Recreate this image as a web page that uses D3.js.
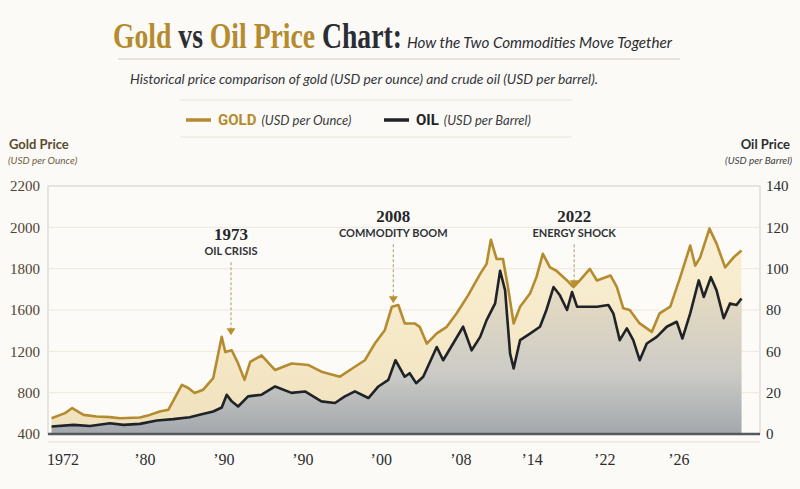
<!DOCTYPE html>
<html>
<head>
<meta charset="utf-8">
<script src="https://cdn.jsdelivr.net/npm/d3@7"></script>
<style>
  body { margin: 0; background: #fcfaf6; }
  svg { display: block; }
</style>
</head>
<body>
<div id="chart"></div>
<script>
// timeline position (0-100 across the plot) and values
const goldT = [0.5, 2.4, 3.4, 5.0, 6.8, 8.7, 10.1, 12.9, 14.3, 15.7,
    16.9, 18.8, 19.7, 20.6, 21.8, 23.2, 24.4, 24.9, 25.8, 26.7,
    27.6, 28.4, 30.0, 31.9, 34.2, 36.6, 38.4, 41.0, 43.1, 44.5,
    45.9, 47.3, 48.3, 49.2, 50.1, 51.5, 52.2, 53.2, 54.6, 56.0,
    57.4, 59.0, 60.7, 61.6, 62.2, 63.0, 63.9, 64.6, 65.4, 66.3,
    67.7, 68.6, 69.5, 70.5, 71.4, 72.9, 73.8, 74.7, 76.1, 77.1,
    79.0, 79.9, 80.8, 81.7, 83.1, 84.8, 85.9, 87.4, 88.8, 90.2,
    90.9, 91.6, 92.9, 93.9, 95.1, 96.3, 97.4];
const goldPrice = [553, 602, 651, 585, 569, 563, 553, 559, 585, 618,
    634, 876, 845, 797, 829, 940, 1340, 1193, 1210, 1083,
    924, 1098, 1162, 1019, 1083, 1067, 1003, 955, 1051, 1114,
    1275, 1405, 1616, 1624, 1470, 1470, 1437, 1275, 1373, 1437,
    1568, 1671, 1775, 1823, 1940, 1847, 1847, 1711, 1470, 1616,
    1680, 1759, 1872, 1806, 1790, 1743, 1711, 1743, 1799, 1743,
    1767, 1711, 1608, 1600, 1470, 1388, 1568, 1616, 1759, 1912,
    1815, 1855, 1994, 1921, 1806, 1855, 1888];

const oilT = [0.5, 3.6, 5.9, 8.7, 10.6, 12.9, 15.3, 17.6, 19.9, 21.3,
    23.2, 24.4, 25.1, 25.8, 26.7, 28.1, 30.0, 31.9, 34.2, 36.1,
    38.4, 40.3, 41.7, 43.1, 45.0, 46.4, 47.8, 48.8, 50.1, 50.8,
    51.7, 52.7, 54.6, 55.5, 56.9, 58.3, 59.5, 60.7, 61.6, 62.8,
    63.5, 64.2, 64.9, 65.4, 66.3, 67.7, 69.1, 70.0, 71.0, 71.9,
    72.9, 73.6, 74.3, 75.7, 77.1, 78.7, 79.4, 80.3, 81.3, 82.2,
    83.1, 84.1, 85.5, 86.9, 88.3, 89.1, 90.2, 91.4, 92.1, 93.1,
    93.9, 94.9, 95.8, 96.7, 97.4];
const oilPrice = [3.6, 4.4, 3.9, 5.2, 4.4, 4.9, 6.5, 7.2, 8.1, 9.3,
    10.9, 12.8, 19, 15.8, 13.3, 18.2, 19, 26, 19.9, 21.2,
    15.8, 15, 18.2, 21.2, 17.4, 26, 32.4, 51.4, 35.4, 38.8,
    29.2, 35.4, 62.1, 51.4, 63.8, 71.9, 60.5, 67, 75.1, 83.2,
    99, 89.5, 57.8, 43.5, 65.4, 68.6, 71.9, 80, 91.1, 87.1,
    80, 88.7, 81.6, 81.6, 81.6, 82.4, 78.4, 65.4, 71.1, 65.4,
    51.4, 63.8, 67, 71.9, 74.3, 66.2, 78.4, 94.3, 86.3, 95.9,
    89.5, 76, 83.2, 82.4, 85.6];

// axis ticks (the picture spaces them evenly although the steps differ)
const goldTicks = [400, 800, 1200, 1600, 1800, 2000, 2200];
const oilTicks = [0, 20, 60, 80, 100, 120, 140];
const xTickLabels = ["1972", "\u201980", "\u201990", "\u201990", "\u201900", "\u201908", "\u201914", "\u201922", "\u201926"];
const xTickPos = [2.1, 13.6, 24.7, 35.8, 46.8, 58.0, 68.0, 78.2, 88.6];

// annotations: timeline position, gold level of arrow tip, gold level of the caption
const noteYears = ["1973", "2008", "2022"];
const noteLabels = ["OIL CRISIS", "COMMODITY BOOM", "ENERGY SHOCK"];
const noteT = [25.7, 48.5, 73.9];
const noteTip = [1356, 1633, 1710];
const noteCaption = [1937, 2024, 2024];

const W = 800, H = 489;
const plot = {left: 48, right: 760, top: 186, bottom: 434};
const GOLD = "#b48b2f", DARK = "#1f2328";
const serif = "'Liberation Serif', 'DejaVu Serif', serif";
const sans = "Lato, 'Open Sans', sans-serif";

const svg = d3.select("#chart").append("svg")
    .attr("width", W)
    .attr("height", H)
    .style("background", "#fcfaf6");

const defs = svg.append("defs");

// scales
const x = d3.scaleLinear().domain([0, 100]).range([plot.left, plot.right]);
const yStep = (plot.bottom - plot.top) / (goldTicks.length - 1);
const tickPix = goldTicks.map((d, i) => plot.bottom - i * yStep);
const yGold = d3.scaleLinear().domain(goldTicks).range(tickPix);
const yOil = d3.scaleLinear().domain(oilTicks).range(tickPix);

// gradients
const gGrad = defs.append("linearGradient").attr("id", "goldFill")
    .attr("gradientUnits", "userSpaceOnUse")
    .attr("x1", 0).attr("x2", 0).attr("y1", plot.top).attr("y2", plot.bottom);
gGrad.append("stop").attr("offset", "0%").attr("stop-color", "#fbf2da");
gGrad.append("stop").attr("offset", "60%").attr("stop-color", "#f6e9c8");
gGrad.append("stop").attr("offset", "100%").attr("stop-color", "#efe1bd");

const oGrad = defs.append("linearGradient").attr("id", "oilFill")
    .attr("gradientUnits", "userSpaceOnUse")
    .attr("x1", 0).attr("x2", 0).attr("y1", plot.top).attr("y2", plot.bottom);
oGrad.append("stop").attr("offset", "0%").attr("stop-color", "#efe5cc");
oGrad.append("stop").attr("offset", "45%").attr("stop-color", "#e4dac2");
oGrad.append("stop").attr("offset", "75%").attr("stop-color", "#cccbc6");
oGrad.append("stop").attr("offset", "100%").attr("stop-color", "#a3a8ad");

// ---- title block ----
const title = svg.append("g").attr("transform", "translate(113,48)");
const titleText = title.append("text")
    .style("font-family", serif)
    .style("font-weight", "bold")
    .style("font-size", "36px");
titleText.append("tspan").attr("fill", GOLD).text("Gold");
titleText.append("tspan").attr("fill", "#2a2d33").text(" vs ");
titleText.append("tspan").attr("fill", GOLD).text("Oil Price");
titleText.append("tspan").attr("fill", "#2a2d33").text(" Chart:");
const tLen = titleText.node().getComputedTextLength();
titleText.attr("transform", `scale(${289 / tLen},1)`);

svg.append("text")
    .attr("x", 407).attr("y", 48)
    .attr("textLength", 265).attr("lengthAdjust", "spacingAndGlyphs")
    .style("font-family", sans)
    .style("font-style", "italic")
    .style("font-size", "15px")
    .attr("fill", "#2a2d33")
    .text("How the Two Commodities Move Together");

svg.append("line")
    .attr("x1", 118).attr("x2", 680).attr("y1", 59).attr("y2", 59)
    .attr("stroke", "#e2ddd3").attr("stroke-width", 1.5);

svg.append("text")
    .attr("x", 130).attr("y", 84)
    .attr("textLength", 468).attr("lengthAdjust", "spacingAndGlyphs")
    .style("font-family", sans)
    .style("font-style", "italic")
    .style("font-size", "13px")
    .attr("fill", "#33363b")
    .text("Historical price comparison of gold (USD per ounce) and crude oil (USD per barrel).");

// ---- legend ----
const legend = svg.append("g");
[100, 137].forEach(yy => {
    legend.append("line")
        .attr("x1", 180).attr("x2", 572).attr("y1", yy).attr("y2", yy)
        .attr("stroke", "#e8e3d9").attr("stroke-width", 1.2);
});
const legendItems = [
    {name: "GOLD", unit: "(USD per Ounce)", color: GOLD, x0: 186},
    {name: "OIL", unit: "(USD per Barrel)", color: DARK, x0: 384}
];
legendItems.forEach(d => {
    legend.append("line")
        .attr("x1", d.x0).attr("x2", d.x0 + 25).attr("y1", 120).attr("y2", 120)
        .attr("stroke", d.color).attr("stroke-width", 3.5);
    const t = legend.append("text")
        .attr("x", d.x0 + 32).attr("y", 125)
        .attr("fill", d.color)
        .style("font-family", "'Liberation Sans Narrow', Roboto, sans-serif")
        .style("font-weight", "bold")
        .style("font-size", "15px")
        .text(d.name);
    const w = t.node().getComputedTextLength();
    legend.append("text")
        .attr("x", d.x0 + 32 + w + 5).attr("y", 125)
        .attr("fill", "#3a3c40")
        .style("font-family", sans)
        .style("font-style", "italic")
        .style("font-size", "13px")
        .text(d.unit);
});

// ---- axis titles ----
svg.append("text").attr("x", 9).attr("y", 149)
    .style("font-family", sans).style("font-weight", "bold").style("font-size", "13px")
    .attr("fill", "#5b4a2c").text("Gold Price");
svg.append("text").attr("x", 8).attr("y", 164)
    .style("font-family", sans).style("font-style", "italic").style("font-size", "10px")
    .attr("fill", "#6d5e45").text("(USD per Ounce)");
svg.append("text").attr("x", 790).attr("y", 149).attr("text-anchor", "end")
    .style("font-family", sans).style("font-weight", "bold").style("font-size", "13px")
    .attr("fill", "#2b2d31").text("Oil Price");
svg.append("text").attr("x", 792).attr("y", 164).attr("text-anchor", "end")
    .style("font-family", sans).style("font-style", "italic").style("font-size", "10px")
    .attr("fill", "#3d3f43").text("(USD per Barrel)");

// ---- plot frame and grid ----
svg.append("rect")
    .attr("x", plot.left).attr("y", plot.top)
    .attr("width", plot.right - plot.left).attr("height", plot.bottom - plot.top)
    .attr("fill", "#fdfbf7")
    .attr("stroke", "#d9d6d0").attr("stroke-width", 1.2);

svg.append("g")
    .selectAll("line")
    .data(goldTicks.slice(1, -1))
    .enter()
    .append("line")
    .attr("x1", plot.left).attr("x2", plot.right)
    .attr("y1", d => yGold(d)).attr("y2", d => yGold(d))
    .attr("stroke", "#ece7de").attr("stroke-width", 1);

// ---- areas ----
const goldData = goldT.map((t, i) => ({t: t, v: goldPrice[i]}));
const oilData = oilT.map((t, i) => ({t: t, v: oilPrice[i]}));

const goldArea = d3.area()
    .x(d => x(d.t))
    .y0(plot.bottom)
    .y1(d => yGold(d.v));
const oilArea = d3.area()
    .x(d => x(d.t))
    .y0(plot.bottom)
    .y1(d => yOil(d.v));

svg.append("path").datum(goldData)
    .attr("d", goldArea)
    .attr("fill", "url(#goldFill)");
svg.append("path").datum(oilData)
    .attr("d", oilArea)
    .attr("fill", "url(#oilFill)");

// ---- lines ----
const goldLine = d3.line().x(d => x(d.t)).y(d => yGold(d.v));
const oilLine = d3.line().x(d => x(d.t)).y(d => yOil(d.v));

svg.append("path").datum(goldData)
    .attr("d", goldLine)
    .attr("fill", "none")
    .attr("stroke", GOLD)
    .attr("stroke-width", 2.6)
    .attr("stroke-linejoin", "round");
svg.append("path").datum(oilData)
    .attr("d", oilLine)
    .attr("fill", "none")
    .attr("stroke", DARK)
    .attr("stroke-width", 2.6)
    .attr("stroke-linejoin", "round");

// ---- bottom axis line ----
svg.append("line")
    .attr("x1", plot.left).attr("x2", plot.right)
    .attr("y1", plot.bottom).attr("y2", plot.bottom)
    .attr("stroke", "#55595e").attr("stroke-width", 2.5);
svg.append("line")
    .attr("x1", plot.left).attr("x2", plot.right)
    .attr("y1", plot.bottom + 8).attr("y2", plot.bottom + 8)
    .attr("stroke", "#ebe7e0").attr("stroke-width", 1.5);

// ---- y axes ----
const leftAxis = svg.append("g")
    .attr("transform", `translate(${plot.left - 6},0)`)
    .call(d3.axisLeft(yGold).tickValues(goldTicks).tickFormat(d3.format("d")).tickSize(0).tickPadding(2));
leftAxis.select(".domain").remove();
leftAxis.selectAll("text")
    .style("font-family", serif)
    .style("font-size", "15px")
    .attr("fill", "#4f4434");

const rightAxis = svg.append("g")
    .attr("transform", `translate(${plot.right + 4},0)`)
    .call(d3.axisRight(yOil).tickValues(oilTicks).tickFormat(d3.format("d")).tickSize(0).tickPadding(2));
rightAxis.select(".domain").remove();
rightAxis.selectAll("text")
    .style("font-family", serif)
    .style("font-size", "15px")
    .attr("fill", "#2b2d31");

// ---- x tick labels ----
svg.append("g")
    .selectAll("text")
    .data(xTickLabels)
    .enter()
    .append("text")
    .attr("x", (d, i) => x(xTickPos[i]))
    .attr("y", 465)
    .attr("text-anchor", "middle")
    .style("font-family", serif)
    .style("font-size", "16px")
    .attr("fill", "#2b2d31")
    .text(d => d);

// ---- annotations ----
const notes = svg.append("g");
noteYears.forEach((yr, i) => {
    const nx = x(noteT[i]);
    const capY = yGold(noteCaption[i]);
    const tipY = yGold(noteTip[i]);
    notes.append("text")
        .attr("x", nx).attr("y", capY)
        .attr("text-anchor", "middle")
        .style("font-family", serif)
        .style("font-weight", "bold")
        .style("font-size", "17px")
        .attr("fill", "#24272c")
        .text(yr);
    notes.append("text")
        .attr("x", nx).attr("y", capY + 15)
        .attr("text-anchor", "middle")
        .style("font-family", sans)
        .style("font-weight", "bold")
        .style("font-size", "11px")
        .attr("fill", "#2f3237")
        .text(noteLabels[i]);
    notes.append("line")
        .attr("x1", nx).attr("x2", nx)
        .attr("y1", capY + 22).attr("y2", tipY - 6)
        .attr("stroke", "#b9a98a")
        .attr("stroke-width", 1.2)
        .attr("stroke-dasharray", "3,2");
    notes.append("path")
        .attr("d", `M${nx - 4.5},${tipY - 7} L${nx + 4.5},${tipY - 7} L${nx},${tipY} Z`)
        .attr("fill", "#b8902f");
});
</script>
</body>
</html>
